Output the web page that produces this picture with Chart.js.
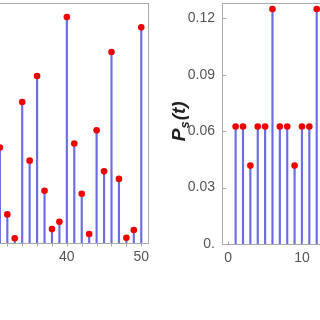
<!DOCTYPE html>
<html>
<head>
<meta charset="utf-8">
<script src="https://cdn.jsdelivr.net/npm/chart.js@4"></script>
<style>
html,body{margin:0;padding:0;background:#fff;overflow:hidden;width:320px;height:320px;}
.box{position:absolute;top:0;}
canvas{display:block;}
</style>
</head>
<body>
<div class="box" id="lb" style="left:-40px;width:192px;height:320px;"><canvas id="left" width="192" height="320"></canvas></div>
<div class="box" id="rb" style="left:162px;width:200px;height:320px;"><canvas id="right" width="200" height="320"></canvas></div>
<script>
// ---- data ----
const leftT = [31,32,33,34,35,36,37,38,39,40,41,42,43,44,45,46,47,48,49,50];
const leftP = [0.0508,0.0152,0.0025,0.0750,0.0438,0.0888,0.0278,0.0074,0.0113,0.1202,
               0.0529,0.0262,0.0048,0.0600,0.0381,0.1016,0.0341,0.0028,0.0069,0.1147];
const leftXTicks = [30,40,50];
const leftMinorTicks = [30,32,34,36,38,40,42,44,46,48,50];

const rightT = [1,2,3,4,5,6,7,8,9,10,11,12];
const rightP = [0.0625,0.0625,0.0417,0.0625,0.0625,0.125,0.0625,0.0625,0.0417,0.0625,0.0625,0.125];
const rightXTicks = [0,10];
const rightYTicks = [0,0.03,0.06,0.09,0.12];
const rightYLabels = ["0.","0.03","0.06","0.09","0.12"];
const yTitleMain = "P", yTitleSub = "s", yTitleRest = "(t)";

Chart.defaults.devicePixelRatio = 1;
Chart.defaults.font.family = "'Liberation Sans', Arial, sans-serif";

const stemColor = 'rgb(108,108,228)';
const dotColor = '#ee0000';
const frameColor = '#aaaaaa';
const labelColor = '#555555';

const framePlugin = {
  id: 'frame',
  afterDraw(chart, args, opts) {
    const {ctx, chartArea: a, scales} = chart;
    ctx.save();
    ctx.strokeStyle = frameColor;
    ctx.lineWidth = 1;
    ctx.strokeRect(Math.round(a.left) + 0.5, Math.round(a.top) + 0.5,
                   Math.round(a.right - a.left) - 1, Math.round(a.bottom - a.top));
    ctx.beginPath();
    (opts.xTicks || []).forEach(v => {
      const x = Math.round(scales.x.getPixelForValue(v)) + 0.5;
      const b = Math.round(a.bottom) + 0.5;
      ctx.moveTo(x, b);
      ctx.lineTo(x, b + (opts.xTickLen || 0));
    });
    (opts.yTicks || []).forEach(v => {
      const y = Math.round(scales.y.getPixelForValue(v)) + 0.5;
      const l = Math.round(a.left) + 0.5;
      ctx.moveTo(l, y);
      ctx.lineTo(l + (opts.yTickLen || 0), y);
    });
    ctx.stroke();
    if (opts.title) {
      const yc = (scales.y.getPixelForValue(opts.title.at));
      ctx.translate(opts.title.x, yc);
      ctx.rotate(-Math.PI / 2);
      ctx.fillStyle = '#222';
      ctx.textBaseline = 'alphabetic';
      const big = "italic bold 19px 'Liberation Sans', Arial, sans-serif";
      const small = "italic bold 13px 'Liberation Sans', Arial, sans-serif";
      ctx.font = big; const w1 = ctx.measureText(yTitleMain).width;
      ctx.font = small; const w2 = ctx.measureText(yTitleSub).width;
      ctx.font = big; const w3 = ctx.measureText(yTitleRest).width;
      let x = -(w1 + w2 + w3) / 2;
      ctx.font = big; ctx.fillText(yTitleMain, x, 0); x += w1;
      ctx.font = small; ctx.fillText(yTitleSub, x, 4); x += w2 + 1;
      ctx.font = big; ctx.fillText(yTitleRest, x, 0);
    }
    ctx.restore();
  }
};

function pts(xs, ys) { return xs.map((x, i) => ({x: x, y: ys[i]})); }

function makeDatasets(xs, ys) {
  return [
    {type: 'scatter', data: pts(xs, ys), backgroundColor: dotColor, borderColor: dotColor,
     pointRadius: 3.3, pointHoverRadius: 3.3, borderWidth: 0, order: 0},
    {type: 'bar', data: pts(xs, ys), backgroundColor: stemColor, barThickness: 1.5,
     borderWidth: 0, order: 1}
  ];
}

function noPad(s) { s.paddingLeft = 0; s.paddingRight = 0; s.paddingTop = 0; s.paddingBottom = 0; }

// Left panel
new Chart(document.getElementById('left'), {
  type: 'bar',
  data: {datasets: makeDatasets(leftT, leftP)},
  plugins: [framePlugin],
  options: {
    responsive: false, animation: false,
    layout: {padding: {top: 3, right: 2, left: 25, bottom: 0}},
    plugins: {legend: {display: false}, tooltip: {enabled: false},
      frame: {xTicks: leftMinorTicks, xTickLen: 3}},
    scales: {
      x: {type: 'linear', min: 29, max: 51, offset: false,
          grid: {display: false, drawTicks: false}, border: {display: false},
          afterBuildTicks: s => { s.ticks = leftXTicks.map(v => ({value: v})); },
          afterFit: s => { s.height = 77; noPad(s); },
          ticks: {color: labelColor, font: {size: 14}, padding: 6, maxRotation: 0,
                  callback: v => String(v)}},
      y: {type: 'linear', display: false, min: 0, max: 0.1275}
    }
  }
});

// Right panel
new Chart(document.getElementById('right'), {
  type: 'bar',
  data: {datasets: makeDatasets(rightT, rightP)},
  plugins: [framePlugin],
  options: {
    responsive: false, animation: false,
    layout: {padding: {top: 3, right: 0, left: 0, bottom: 0}},
    plugins: {legend: {display: false}, tooltip: {enabled: false},
      frame: {xTicks: rightXTicks, xTickLen: -3, yTicks: rightYTicks.slice(1), yTickLen: 4,
              title: {x: 23, at: 0.065}}},
    scales: {
      x: {type: 'linear', min: -0.85, max: 17.7, offset: false,
          grid: {display: false, drawTicks: false}, border: {display: false},
          afterBuildTicks: s => { s.ticks = rightXTicks.map(v => ({value: v})); },
          afterFit: s => { s.height = 76; noPad(s); },
          ticks: {color: labelColor, font: {size: 14}, padding: 6, maxRotation: 0,
                  callback: v => String(v)}},
      y: {type: 'linear', min: 0, max: 0.128,
          grid: {display: false, drawTicks: false}, border: {display: false},
          afterBuildTicks: s => { s.ticks = rightYTicks.map(v => ({value: v})); },
          afterFit: s => { s.width = 60; noPad(s); },
          ticks: {color: labelColor, font: {size: 14}, padding: 7,
                  callback: (v) => { const i = rightYTicks.findIndex(t => Math.abs(t - v) < 1e-9); return i >= 0 ? rightYLabels[i] : ''; }}}
    }
  }
});
</script>
</body>
</html>
